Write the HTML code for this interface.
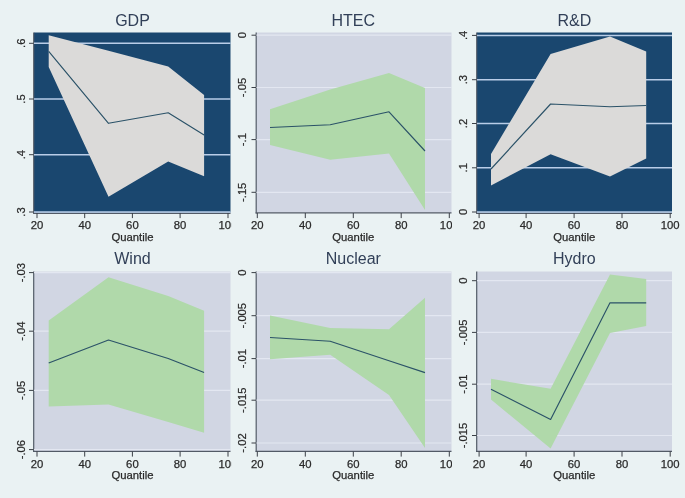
<!DOCTYPE html>
<html lang="en">
<head>
<meta charset="utf-8">
<title>Quantile regression coefficient plots</title>
<style>
html,body{margin:0;padding:0;background:#eaf2f3;}
body{width:685px;height:498px;overflow:hidden;}
svg{display:block;}
text{font-family:"Liberation Sans",sans-serif;}
.tk{font-size:11.3px;fill:#2a2a2a;text-anchor:middle;stroke:#2a2a2a;stroke-width:0.25px;}
.ty{font-size:11.2px;fill:#2a2a2a;text-anchor:middle;stroke:#2a2a2a;stroke-width:0.25px;}
.tq{font-size:11.3px;fill:#2a2a2a;text-anchor:middle;stroke:#2a2a2a;stroke-width:0.25px;}
.tt{font-size:16px;fill:#324058;text-anchor:middle;}
</style>
</head>
<body>
<svg width="685" height="498" viewBox="0 0 685 498">
<defs>
<clipPath id="c0"><rect x="0" y="0" width="231.2" height="498"/></clipPath>
<clipPath id="c1"><rect x="231.2" y="0" width="220.8" height="498"/></clipPath>
<clipPath id="c2"><rect x="452" y="0" width="233" height="498"/></clipPath>
</defs>
<rect x="0" y="0" width="685" height="498" fill="#eaf2f3"/>
<g clip-path="url(#c0)">
<rect x="34" y="32.5" width="196.5" height="180" fill="#1a476f"/>
<line x1="33.7" y1="32.5" x2="33.7" y2="213.4" stroke="#525a66" stroke-width="1.2"/>
<line x1="33.1" y1="213.3" x2="230.5" y2="213.3" stroke="#525a66" stroke-width="1.2"/>
<line x1="34" y1="43.3" x2="230.5" y2="43.3" stroke="#b9cde8" stroke-width="1.5"/>
<line x1="34" y1="99" x2="230.5" y2="99" stroke="#b9cde8" stroke-width="1.5"/>
<line x1="34" y1="154.7" x2="230.5" y2="154.7" stroke="#b9cde8" stroke-width="1.5"/>
<line x1="34" y1="212" x2="230.5" y2="212" stroke="#b9cde8" stroke-width="1.5"/>
<polygon points="48.7,35.2 108.5,50.8 168.2,66.6 204.1,95 204.1,176.3 168.2,161.6 108.5,196.8 48.7,67" fill="#dbdad9"/>
<polyline points="48.7,51.3 108.5,123.3 168.2,112.8 204.1,135" fill="none" stroke="#2b5268" stroke-width="1.15" stroke-linejoin="round"/>
<line x1="29" y1="43.3" x2="33.5" y2="43.3" stroke="#3a3f46" stroke-width="1"/>
<text class="ty" transform="translate(20.8 43.3) rotate(-90) scale(1 0.96)" y="4.05">.6</text>
<line x1="29" y1="99" x2="33.5" y2="99" stroke="#3a3f46" stroke-width="1"/>
<text class="ty" transform="translate(20.8 99) rotate(-90) scale(1 0.96)" y="4.05">.5</text>
<line x1="29" y1="154.7" x2="33.5" y2="154.7" stroke="#3a3f46" stroke-width="1"/>
<text class="ty" transform="translate(20.8 154.7) rotate(-90) scale(1 0.96)" y="4.05">.4</text>
<line x1="29" y1="212" x2="33.5" y2="212" stroke="#3a3f46" stroke-width="1"/>
<text class="ty" transform="translate(20.8 212) rotate(-90) scale(1 0.96)" y="4.05">.3</text>
<line x1="37" y1="213" x2="37" y2="218.1" stroke="#3a3f46" stroke-width="1"/>
<text class="tk" x="37" y="228.75">20</text>
<line x1="84.7" y1="213" x2="84.7" y2="218.1" stroke="#3a3f46" stroke-width="1"/>
<text class="tk" x="84.7" y="228.75">40</text>
<line x1="132.4" y1="213" x2="132.4" y2="218.1" stroke="#3a3f46" stroke-width="1"/>
<text class="tk" x="132.4" y="228.75">60</text>
<line x1="180.1" y1="213" x2="180.1" y2="218.1" stroke="#3a3f46" stroke-width="1"/>
<text class="tk" x="180.1" y="228.75">80</text>
<line x1="228" y1="213" x2="228" y2="218.1" stroke="#3a3f46" stroke-width="1"/>
<text class="tk" x="228" y="228.75">100</text>
<text class="tq" x="132.5" y="240.6">Quantile</text>
<text class="tt" x="132.5" y="25.5">GDP</text>
</g>
<g clip-path="url(#c1)">
<rect x="256.5" y="32.5" width="195" height="180" fill="#d1d6e3"/>
<line x1="256.2" y1="32.5" x2="256.2" y2="213.4" stroke="#525a66" stroke-width="1.2"/>
<line x1="255.6" y1="212.9" x2="451.5" y2="212.9" stroke="#525a66" stroke-width="1.2"/>
<line x1="256.5" y1="35.2" x2="451.5" y2="35.2" stroke="#e3e7f1" stroke-width="1.2"/>
<line x1="256.5" y1="87.5" x2="451.5" y2="87.5" stroke="#e3e7f1" stroke-width="1.2"/>
<line x1="256.5" y1="139.6" x2="451.5" y2="139.6" stroke="#e3e7f1" stroke-width="1.2"/>
<line x1="256.5" y1="192.3" x2="451.5" y2="192.3" stroke="#e3e7f1" stroke-width="1.2"/>
<polygon points="270,109.3 330.2,89.5 389,72.9 425,88 425,210 389,153.4 330.2,159.7 270,145" fill="#b0d9aa"/>
<polyline points="270,127.5 330.2,124.8 389,111.8 425,151" fill="none" stroke="#2b5268" stroke-width="1.15" stroke-linejoin="round"/>
<line x1="251.5" y1="35.2" x2="256" y2="35.2" stroke="#3a3f46" stroke-width="1"/>
<text class="ty" transform="translate(242 35.2) rotate(-90) scale(1 0.96)" y="4.05">0</text>
<line x1="251.5" y1="87.5" x2="256" y2="87.5" stroke="#3a3f46" stroke-width="1"/>
<text class="ty" transform="translate(242 87.5) rotate(-90) scale(1 0.96)" y="4.05">-.05</text>
<line x1="251.5" y1="139.6" x2="256" y2="139.6" stroke="#3a3f46" stroke-width="1"/>
<text class="ty" transform="translate(242 139.6) rotate(-90) scale(1 0.96)" y="4.05">-.1</text>
<line x1="251.5" y1="192.3" x2="256" y2="192.3" stroke="#3a3f46" stroke-width="1"/>
<text class="ty" transform="translate(242 192.3) rotate(-90) scale(1 0.96)" y="4.05">-.15</text>
<line x1="257.3" y1="213" x2="257.3" y2="218.1" stroke="#3a3f46" stroke-width="1"/>
<text class="tk" x="257.3" y="228.75">20</text>
<line x1="305.3" y1="213" x2="305.3" y2="218.1" stroke="#3a3f46" stroke-width="1"/>
<text class="tk" x="305.3" y="228.75">40</text>
<line x1="353.3" y1="213" x2="353.3" y2="218.1" stroke="#3a3f46" stroke-width="1"/>
<text class="tk" x="353.3" y="228.75">60</text>
<line x1="401.2" y1="213" x2="401.2" y2="218.1" stroke="#3a3f46" stroke-width="1"/>
<text class="tk" x="401.2" y="228.75">80</text>
<line x1="449.3" y1="213" x2="449.3" y2="218.1" stroke="#3a3f46" stroke-width="1"/>
<text class="tk" x="449.3" y="228.75">100</text>
<text class="tq" x="353.3" y="240.6">Quantile</text>
<text class="tt" x="353.3" y="25.5">HTEC</text>
</g>
<g clip-path="url(#c2)">
<rect x="477" y="32.5" width="195" height="180" fill="#1a476f"/>
<line x1="476.7" y1="32.5" x2="476.7" y2="213.4" stroke="#525a66" stroke-width="1.2"/>
<line x1="476.1" y1="213.3" x2="672" y2="213.3" stroke="#525a66" stroke-width="1.2"/>
<line x1="477" y1="35.4" x2="672" y2="35.4" stroke="#b9cde8" stroke-width="1.5"/>
<line x1="477" y1="79.7" x2="672" y2="79.7" stroke="#b9cde8" stroke-width="1.5"/>
<line x1="477" y1="123.5" x2="672" y2="123.5" stroke="#b9cde8" stroke-width="1.5"/>
<line x1="477" y1="167.8" x2="672" y2="167.8" stroke="#b9cde8" stroke-width="1.5"/>
<line x1="477" y1="212" x2="672" y2="212" stroke="#b9cde8" stroke-width="1.5"/>
<polygon points="491,154 550.6,54 610,36.4 646.2,51.5 646.2,158.4 610,176.5 550.6,154.3 491,185.5" fill="#dbdad9"/>
<polyline points="491,169 550.6,104 610,106.8 646.2,105.5" fill="none" stroke="#2b5268" stroke-width="1.15" stroke-linejoin="round"/>
<line x1="472" y1="35.4" x2="476.5" y2="35.4" stroke="#3a3f46" stroke-width="1"/>
<text class="ty" transform="translate(462.7 35.4) rotate(-90) scale(1 0.96)" y="4.05">.4</text>
<line x1="472" y1="79.7" x2="476.5" y2="79.7" stroke="#3a3f46" stroke-width="1"/>
<text class="ty" transform="translate(462.7 79.7) rotate(-90) scale(1 0.96)" y="4.05">.3</text>
<line x1="472" y1="123.5" x2="476.5" y2="123.5" stroke="#3a3f46" stroke-width="1"/>
<text class="ty" transform="translate(462.7 123.5) rotate(-90) scale(1 0.96)" y="4.05">.2</text>
<line x1="472" y1="167.8" x2="476.5" y2="167.8" stroke="#3a3f46" stroke-width="1"/>
<text class="ty" transform="translate(462.7 167.8) rotate(-90) scale(1 0.96)" y="4.05">.1</text>
<line x1="472" y1="212" x2="476.5" y2="212" stroke="#3a3f46" stroke-width="1"/>
<text class="ty" transform="translate(462.7 212) rotate(-90) scale(1 0.96)" y="4.05">0</text>
<line x1="479.1" y1="213" x2="479.1" y2="218.1" stroke="#3a3f46" stroke-width="1"/>
<text class="tk" x="479.1" y="228.75">20</text>
<line x1="526.1" y1="213" x2="526.1" y2="218.1" stroke="#3a3f46" stroke-width="1"/>
<text class="tk" x="526.1" y="228.75">40</text>
<line x1="574.1" y1="213" x2="574.1" y2="218.1" stroke="#3a3f46" stroke-width="1"/>
<text class="tk" x="574.1" y="228.75">60</text>
<line x1="622" y1="213" x2="622" y2="218.1" stroke="#3a3f46" stroke-width="1"/>
<text class="tk" x="622" y="228.75">80</text>
<line x1="670.2" y1="213" x2="670.2" y2="218.1" stroke="#3a3f46" stroke-width="1"/>
<text class="tk" x="670.2" y="228.75">100</text>
<text class="tq" x="574.3" y="240.6">Quantile</text>
<text class="tt" x="574.3" y="25.5">R&amp;D</text>
</g>
<g clip-path="url(#c0)">
<rect x="34" y="271.5" width="196.5" height="179.5" fill="#d1d6e3"/>
<line x1="33.7" y1="271.5" x2="33.7" y2="451.9" stroke="#525a66" stroke-width="1.2"/>
<line x1="33.1" y1="451.4" x2="230.5" y2="451.4" stroke="#525a66" stroke-width="1.2"/>
<line x1="34" y1="272.6" x2="230.5" y2="272.6" stroke="#e3e7f1" stroke-width="1.2"/>
<line x1="34" y1="331.2" x2="230.5" y2="331.2" stroke="#e3e7f1" stroke-width="1.2"/>
<line x1="34" y1="390.4" x2="230.5" y2="390.4" stroke="#e3e7f1" stroke-width="1.2"/>
<line x1="34" y1="449.6" x2="230.5" y2="449.6" stroke="#e3e7f1" stroke-width="1.2"/>
<polygon points="48.7,320.4 108.5,277.2 168.2,296 204.1,310.8 204.1,432.8 168.2,422 108.5,404.4 48.7,406.4" fill="#b0d9aa"/>
<polyline points="48.7,363 108.5,340 168.2,358.5 204.1,372.5" fill="none" stroke="#2b5268" stroke-width="1.15" stroke-linejoin="round"/>
<line x1="29" y1="272.6" x2="33.5" y2="272.6" stroke="#3a3f46" stroke-width="1"/>
<text class="ty" transform="translate(20.8 272.6) rotate(-90) scale(1 0.96)" y="4.05">-.03</text>
<line x1="29" y1="331.2" x2="33.5" y2="331.2" stroke="#3a3f46" stroke-width="1"/>
<text class="ty" transform="translate(20.8 331.2) rotate(-90) scale(1 0.96)" y="4.05">-.04</text>
<line x1="29" y1="390.4" x2="33.5" y2="390.4" stroke="#3a3f46" stroke-width="1"/>
<text class="ty" transform="translate(20.8 390.4) rotate(-90) scale(1 0.96)" y="4.05">-.05</text>
<line x1="29" y1="449.6" x2="33.5" y2="449.6" stroke="#3a3f46" stroke-width="1"/>
<text class="ty" transform="translate(20.8 449.6) rotate(-90) scale(1 0.96)" y="4.05">-.06</text>
<line x1="37" y1="451.5" x2="37" y2="456.6" stroke="#3a3f46" stroke-width="1"/>
<text class="tk" x="37" y="467.55">20</text>
<line x1="84.7" y1="451.5" x2="84.7" y2="456.6" stroke="#3a3f46" stroke-width="1"/>
<text class="tk" x="84.7" y="467.55">40</text>
<line x1="132.4" y1="451.5" x2="132.4" y2="456.6" stroke="#3a3f46" stroke-width="1"/>
<text class="tk" x="132.4" y="467.55">60</text>
<line x1="180.1" y1="451.5" x2="180.1" y2="456.6" stroke="#3a3f46" stroke-width="1"/>
<text class="tk" x="180.1" y="467.55">80</text>
<line x1="228" y1="451.5" x2="228" y2="456.6" stroke="#3a3f46" stroke-width="1"/>
<text class="tk" x="228" y="467.55">100</text>
<text class="tq" x="132.5" y="478.9">Quantile</text>
<text class="tt" x="132.5" y="264.2">Wind</text>
</g>
<g clip-path="url(#c1)">
<rect x="256.5" y="271.5" width="195" height="179.5" fill="#d1d6e3"/>
<line x1="256.2" y1="271.5" x2="256.2" y2="451.9" stroke="#525a66" stroke-width="1.2"/>
<line x1="255.6" y1="451.4" x2="451.5" y2="451.4" stroke="#525a66" stroke-width="1.2"/>
<line x1="256.5" y1="272.6" x2="451.5" y2="272.6" stroke="#e3e7f1" stroke-width="1.2"/>
<line x1="256.5" y1="315.7" x2="451.5" y2="315.7" stroke="#e3e7f1" stroke-width="1.2"/>
<line x1="256.5" y1="358.6" x2="451.5" y2="358.6" stroke="#e3e7f1" stroke-width="1.2"/>
<line x1="256.5" y1="400.2" x2="451.5" y2="400.2" stroke="#e3e7f1" stroke-width="1.2"/>
<line x1="256.5" y1="443" x2="451.5" y2="443" stroke="#e3e7f1" stroke-width="1.2"/>
<polygon points="270,315.4 330.2,327.9 389,329.2 425,297.8 425,447.9 389,395 330.2,354.8 270,359.3" fill="#b0d9aa"/>
<polyline points="270,337.5 330.2,341.3 389,360.7 425,372.6" fill="none" stroke="#2b5268" stroke-width="1.15" stroke-linejoin="round"/>
<line x1="251.5" y1="272.6" x2="256" y2="272.6" stroke="#3a3f46" stroke-width="1"/>
<text class="ty" transform="translate(242 272.6) rotate(-90) scale(1 0.96)" y="4.05">0</text>
<line x1="251.5" y1="315.7" x2="256" y2="315.7" stroke="#3a3f46" stroke-width="1"/>
<text class="ty" transform="translate(242 315.7) rotate(-90) scale(1 0.96)" y="4.05">-.005</text>
<line x1="251.5" y1="358.6" x2="256" y2="358.6" stroke="#3a3f46" stroke-width="1"/>
<text class="ty" transform="translate(242 358.6) rotate(-90) scale(1 0.96)" y="4.05">-.01</text>
<line x1="251.5" y1="400.2" x2="256" y2="400.2" stroke="#3a3f46" stroke-width="1"/>
<text class="ty" transform="translate(242 400.2) rotate(-90) scale(1 0.96)" y="4.05">-.015</text>
<line x1="251.5" y1="443" x2="256" y2="443" stroke="#3a3f46" stroke-width="1"/>
<text class="ty" transform="translate(242 443) rotate(-90) scale(1 0.96)" y="4.05">-.02</text>
<line x1="257.3" y1="451.5" x2="257.3" y2="456.6" stroke="#3a3f46" stroke-width="1"/>
<text class="tk" x="257.3" y="467.55">20</text>
<line x1="305.3" y1="451.5" x2="305.3" y2="456.6" stroke="#3a3f46" stroke-width="1"/>
<text class="tk" x="305.3" y="467.55">40</text>
<line x1="353.3" y1="451.5" x2="353.3" y2="456.6" stroke="#3a3f46" stroke-width="1"/>
<text class="tk" x="353.3" y="467.55">60</text>
<line x1="401.2" y1="451.5" x2="401.2" y2="456.6" stroke="#3a3f46" stroke-width="1"/>
<text class="tk" x="401.2" y="467.55">80</text>
<line x1="449.3" y1="451.5" x2="449.3" y2="456.6" stroke="#3a3f46" stroke-width="1"/>
<text class="tk" x="449.3" y="467.55">100</text>
<text class="tq" x="353.3" y="478.9">Quantile</text>
<text class="tt" x="353.3" y="264.2">Nuclear</text>
</g>
<g clip-path="url(#c2)">
<rect x="477" y="271.5" width="195" height="179.5" fill="#d1d6e3"/>
<line x1="476.7" y1="271.5" x2="476.7" y2="451.9" stroke="#525a66" stroke-width="1.2"/>
<line x1="476.1" y1="451.4" x2="672" y2="451.4" stroke="#525a66" stroke-width="1.2"/>
<line x1="477" y1="280.7" x2="672" y2="280.7" stroke="#e3e7f1" stroke-width="1.2"/>
<line x1="477" y1="332.4" x2="672" y2="332.4" stroke="#e3e7f1" stroke-width="1.2"/>
<line x1="477" y1="384.2" x2="672" y2="384.2" stroke="#e3e7f1" stroke-width="1.2"/>
<line x1="477" y1="435.5" x2="672" y2="435.5" stroke="#e3e7f1" stroke-width="1.2"/>
<polygon points="491,378.8 550.6,388.8 610,274.6 646.2,278.9 646.2,326 610,333 550.6,448.4 491,399.6" fill="#b0d9aa"/>
<polyline points="491,389.3 550.6,419.5 610,302.8 646.2,302.8" fill="none" stroke="#2b5268" stroke-width="1.15" stroke-linejoin="round"/>
<line x1="472" y1="280.7" x2="476.5" y2="280.7" stroke="#3a3f46" stroke-width="1"/>
<text class="ty" transform="translate(462.7 280.7) rotate(-90) scale(1 0.96)" y="4.05">0</text>
<line x1="472" y1="332.4" x2="476.5" y2="332.4" stroke="#3a3f46" stroke-width="1"/>
<text class="ty" transform="translate(462.7 332.4) rotate(-90) scale(1 0.96)" y="4.05">-.005</text>
<line x1="472" y1="384.2" x2="476.5" y2="384.2" stroke="#3a3f46" stroke-width="1"/>
<text class="ty" transform="translate(462.7 384.2) rotate(-90) scale(1 0.96)" y="4.05">-.01</text>
<line x1="472" y1="435.5" x2="476.5" y2="435.5" stroke="#3a3f46" stroke-width="1"/>
<text class="ty" transform="translate(462.7 435.5) rotate(-90) scale(1 0.96)" y="4.05">-.015</text>
<line x1="479.1" y1="451.5" x2="479.1" y2="456.6" stroke="#3a3f46" stroke-width="1"/>
<text class="tk" x="479.1" y="467.55">20</text>
<line x1="526.1" y1="451.5" x2="526.1" y2="456.6" stroke="#3a3f46" stroke-width="1"/>
<text class="tk" x="526.1" y="467.55">40</text>
<line x1="574.1" y1="451.5" x2="574.1" y2="456.6" stroke="#3a3f46" stroke-width="1"/>
<text class="tk" x="574.1" y="467.55">60</text>
<line x1="622" y1="451.5" x2="622" y2="456.6" stroke="#3a3f46" stroke-width="1"/>
<text class="tk" x="622" y="467.55">80</text>
<line x1="670.2" y1="451.5" x2="670.2" y2="456.6" stroke="#3a3f46" stroke-width="1"/>
<text class="tk" x="670.2" y="467.55">100</text>
<text class="tq" x="574.3" y="478.9">Quantile</text>
<text class="tt" x="574.3" y="264.2">Hydro</text>
</g>
</svg>
</body>
</html>
